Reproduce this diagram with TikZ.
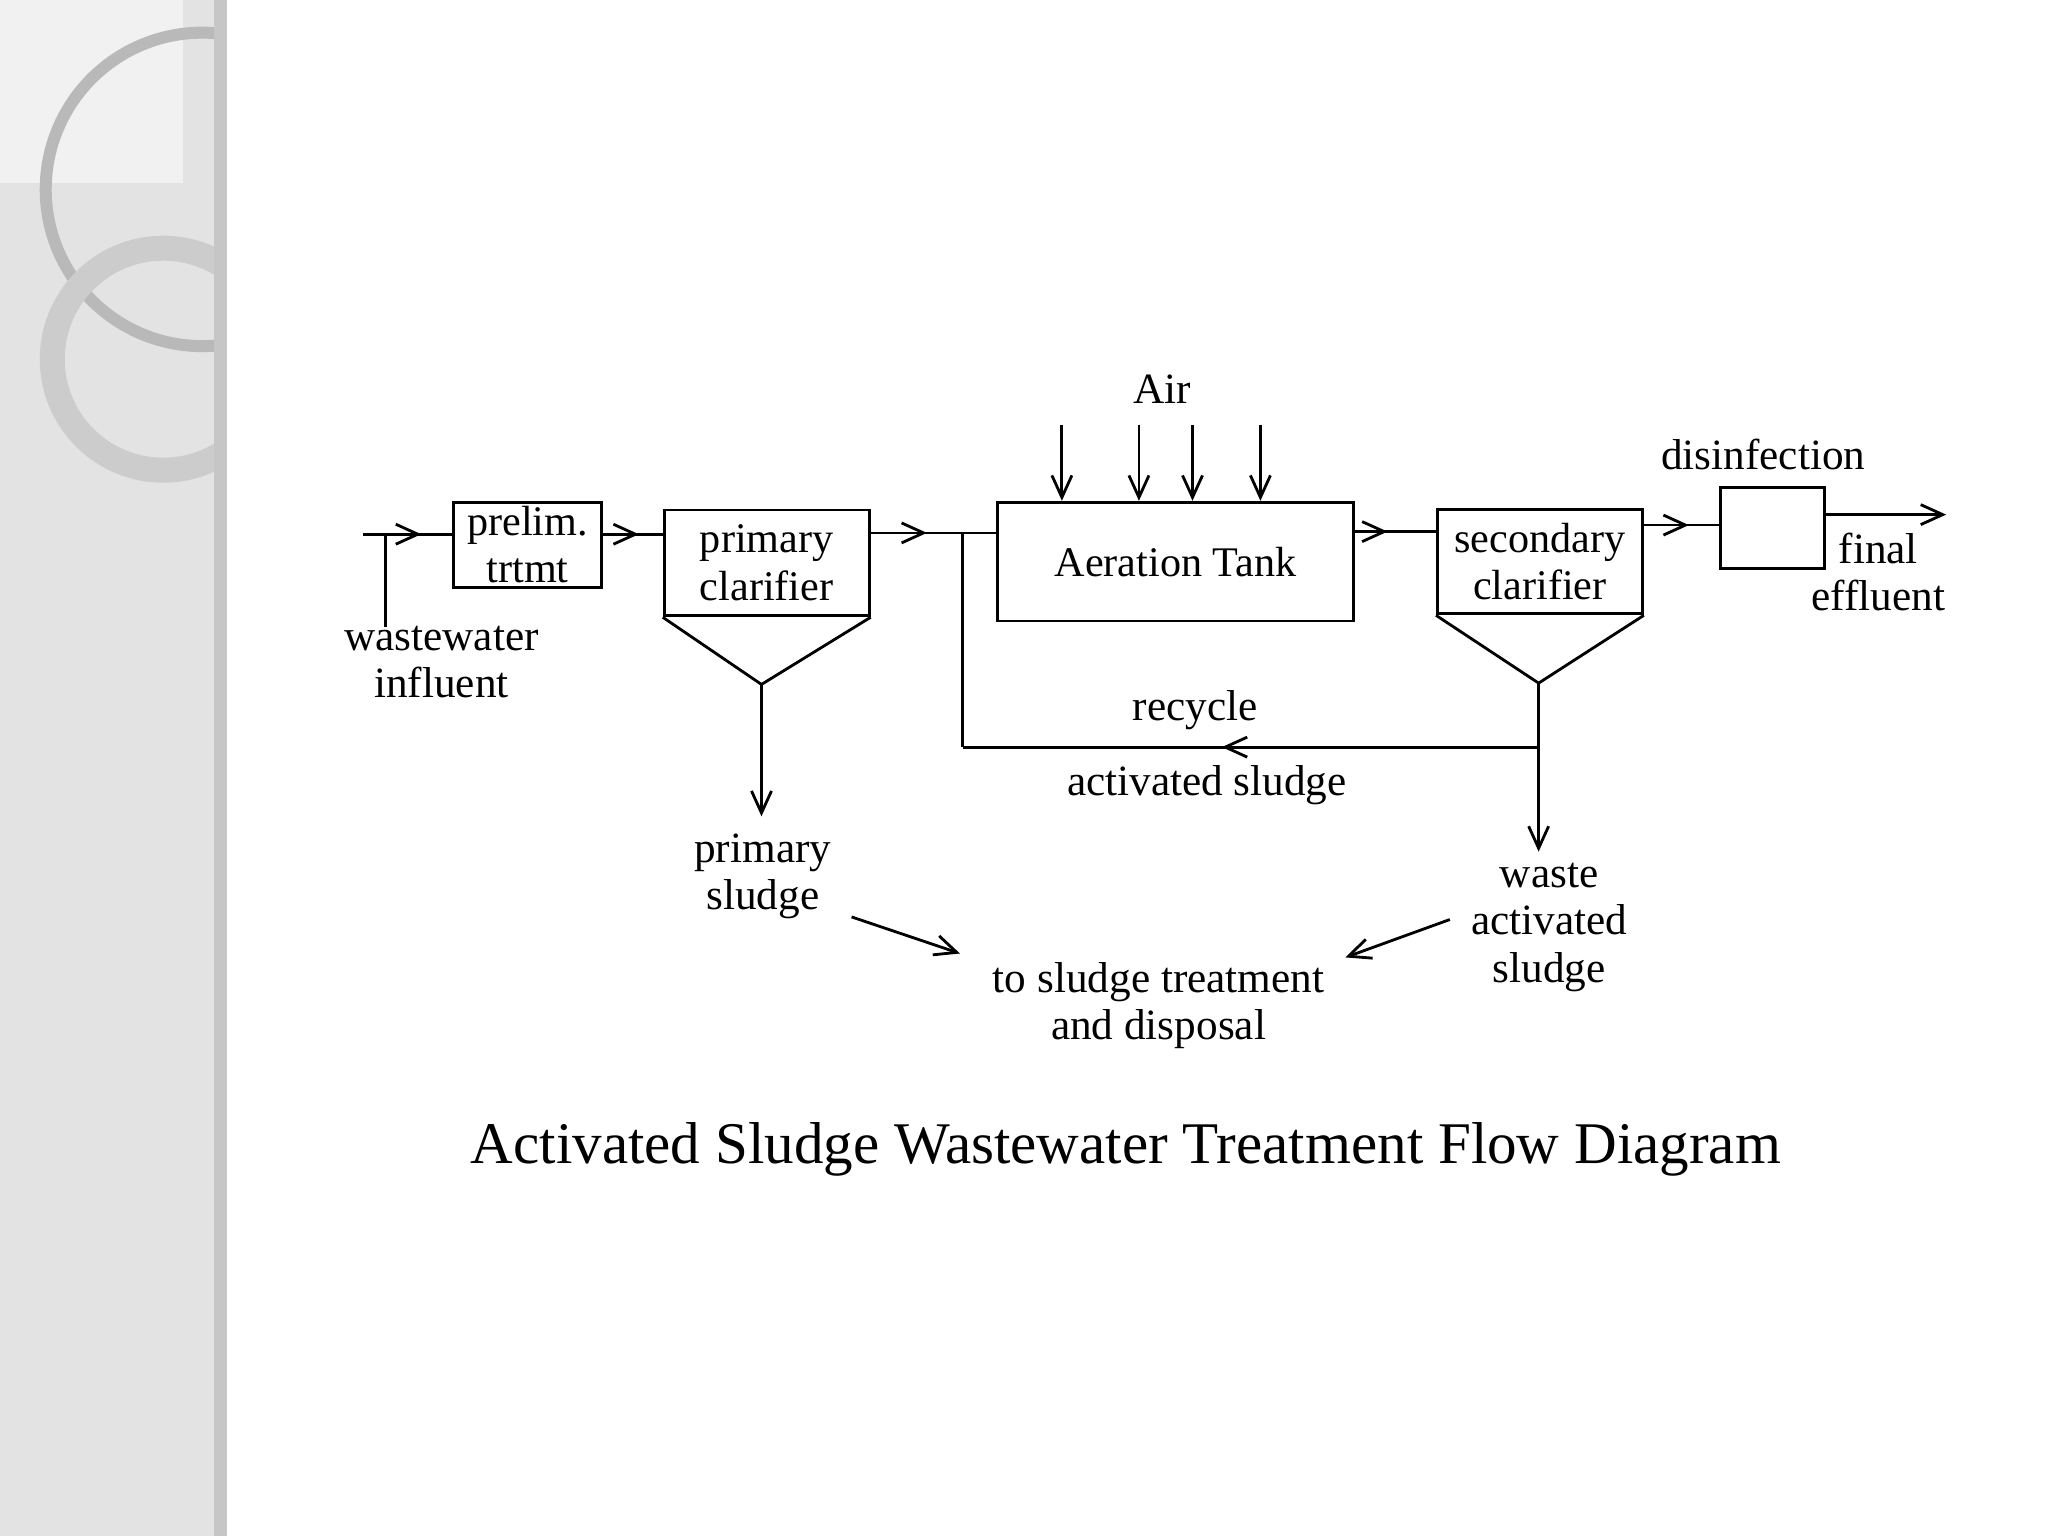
\documentclass[tikz,border=0pt]{standalone}
\usepackage{fontspec}
\setmainfont{Liberation Serif}
\usetikzlibrary{positioning}
\usetikzlibrary{arrows.meta}
\usetikzlibrary{decorations.markings}

\begin{document}
\begin{tikzpicture}[
		x=0.1306mm, y=-0.1306mm,
		box/.style={
			shape=rectangle,
			draw,
			thick,
			align=center,
			inner sep=0pt,
			font={\fontsize{12}{13.5}\selectfont}
		},
		lbl/.style={
			align=center,
			font={\fontsize{12.3}{13.5}\selectfont}
		},
		flow/.style={
			thick,
			postaction={decorate,decoration={markings,
				mark=at position #1 with {\arrow{Straight Barb[length=2.2mm,width=2mm]}}}}
		},
		flow/.default=0.6,
		tip/.style={thick, -{Straight Barb[length=2.2mm,width=2mm]}}
		]
		
		\useasboundingbox (0,0) rectangle (1568,1176);
		
		% side band
		\fill[gray!22] (0,0) rectangle (172,1176);
		\fill[gray!45] (164,0) rectangle (174,1176);
		\begin{scope}
			\clip (0,0) rectangle (164,1176);
			\fill[white, opacity=0.5] (0,0) rectangle (140,140);
			\draw[gray!55, line width=1.2mm] (155,145) circle (120);
			\draw[gray!40, line width=2.5mm] (125,275) circle (85);
		\end{scope}
		
		% units
		\node[box, minimum width=113*0.1306mm, minimum height=65*0.1306mm] (prelim) at (404,417) {prelim.\\trtmt};
		\node[box, minimum width=157*0.1306mm, minimum height=81*0.1306mm] (primary) at (587,431) {primary\\clarifier};
		\node[box, minimum width=273*0.1306mm, minimum height=91*0.1306mm] (aeration) at (900,430) {Aeration Tank};
		\node[box, minimum width=157*0.1306mm, minimum height=80*0.1306mm] (secondary) at (1179,430) {secondary\\clarifier};
		\node[box, minimum width=80*0.1306mm, minimum height=62*0.1306mm] (disinfect) at (1357,404) {};
		
		% hoppers
		\draw[thick] (primary.south west) -- (583,524) -- (primary.south east);
		\coordinate (phop) at (583,524);
		\draw[thick] (secondary.south west) -- (1178,523) -- (secondary.south east);
		\coordinate (shop) at (1178,523);
		
		% labels
		\node[lbl] (influent) at (338,507) {wastewater\\influent};
		\node[lbl] (air) at (890,298) {Air};
		\node[lbl] (dislbl) at (1350,348) {disinfection};
		\node[lbl] (effluent) at (1438,438) {final\\effluent};
		\node[lbl] (recycle) at (915,544) {recycle};
		\node[lbl] (ras) at (924,601) {activated sludge};
		\node[lbl] (psludge) at (584,671) {primary\\sludge};
		\node[lbl] (was) at (1186,710) {waste\\activated\\sludge};
		\node[lbl] (disposal) at (887,770) {to sludge treatment\\and disposal};
		\node[font={\fontsize{16.8}{20}\selectfont}] (title) at (862,880) {Activated Sludge Wastewater Treatment Flow Diagram};
		
		%%%%%%%%%%
		
		\coordinate (in) at (278,409);
		\coordinate (out) at (1490,394);
		\coordinate (split) at (737,408);
		\coordinate (ret) at (737,572);
		\coordinate (wasend) at (1178,652);
		\coordinate (psend) at (583,625);
		
		\draw[flow=0.65] (in) -- (prelim.west |- in);
		\draw[thick] (295,409) -- (295,480);
		\draw[flow] (prelim.east |- in) -- (primary.west |- in);
		\draw[flow=0.45] (primary.east |- split) -- (aeration.west |- split);
		\draw[flow=0.4] (aeration.east |- 0,407) -- (secondary.west |- 0,407);
		\draw[flow] (secondary.east |- 0,402) -- (disinfect.west |- 0,402);
		\draw[tip] (disinfect.east |- out) -- (out);
		
		\foreach \x in {813,872,913,965}
			\draw[tip] (\x,325) -- (aeration.north -| \x,0);
		
		\draw[thick] (split) -- (ret);
		\draw[flow=0.55] (shop |- ret) -- (ret);
		\draw[tip] (shop) -- (wasend);
		\draw[tip] (phop) -- (psend);
		
		\draw[tip] (652,702) -- (735,730);
		\draw[tip] (1110,704) -- (1030,733);
		
	\end{tikzpicture}
\end{document}
